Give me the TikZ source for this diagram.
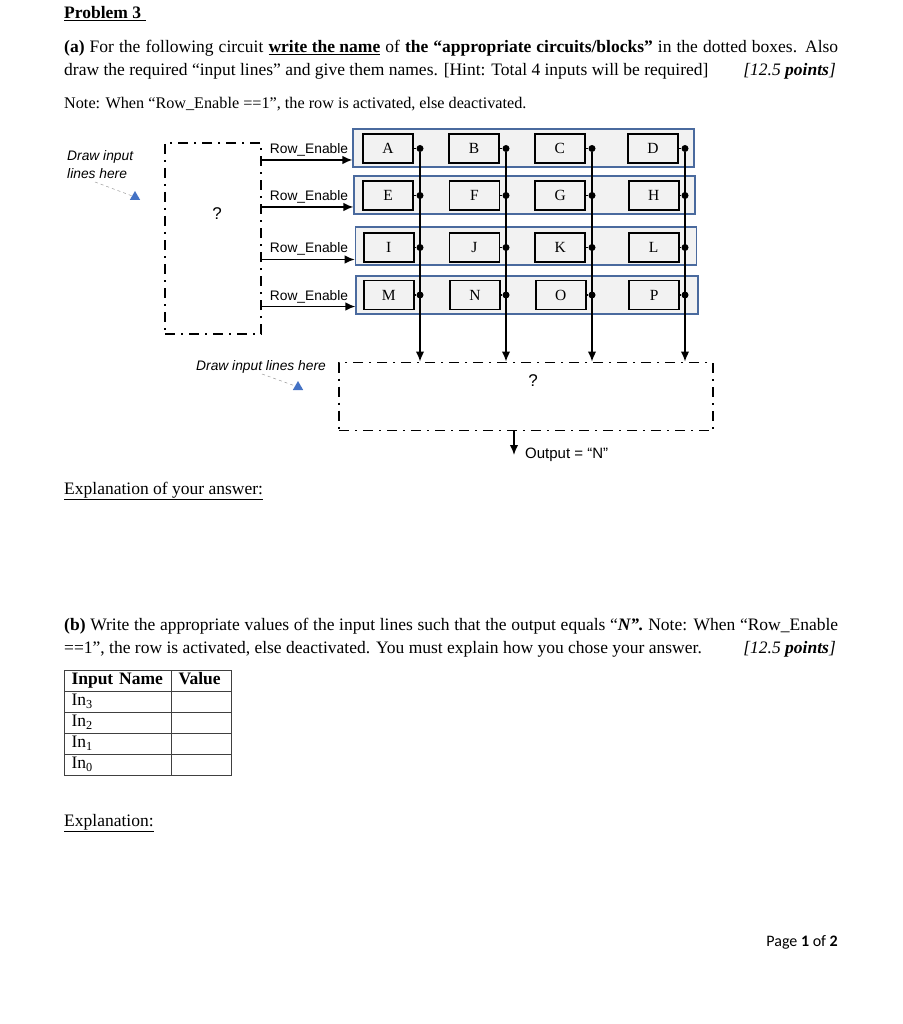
\documentclass[tikz,border=0pt]{standalone}
\usepackage{fontspec}
\setmainfont{Liberation Serif}
\newfontfamily\arialfont{Liberation Sans}
\newfontfamily\pagefont{Carlito}
\usetikzlibrary{arrows.meta,matrix,shapes.geometric}
\tikzset{>={Latex[length=10pt,width=8.5pt]}}
\definecolor{bandline}{HTML}{4A6A9E}
\definecolor{bandfill}{HTML}{F2F2F2}
\definecolor{hintblue}{HTML}{4472C4}
\tikzset{
body/.style={anchor=base west, inner sep=0pt, font=\fontsize{17.5}{20}\selectfont},
fig/.style={inner sep=0pt, font=\arialfont\fontsize{13.8}{16}\selectfont},
band/.style={draw=bandline, fill=bandfill, line width=1.2pt, minimum width=341pt, minimum height=38pt, inner sep=0pt},
block/.style={draw=black, fill=bandfill, line width=1.8pt, minimum width=50pt, minimum height=29pt, inner sep=0pt, font=\fontsize{15.5}{18}\selectfont},
joint/.style={circle, fill=black, inner sep=0pt, minimum size=7pt},
dotbox/.style={draw=black, line width=1.8pt, dash pattern=on 10pt off 6pt on 2pt off 6pt, inner sep=0pt},
hint/.style={regular polygon, regular polygon sides=3, fill=hintblue, inner sep=0pt, minimum size=12pt},
hintline/.style={draw=gray!80, dashed, line width=0.5pt}
}
\newcommand{\pts}{{\itshape [12.5 \textbf{points}]}}
\newcommand{\fullline}[1]{\makebox[774pt][s]{#1}}
\begin{document}
\begin{tikzpicture}[x=1pt,y=-1pt]
\useasboundingbox (0,0) rectangle (902,1024);
% question text
\node[body] (title) at (64,19) {\textbf{\underline{Problem 3\ }}};
\node[body] (a1) at (64,53) {\fullline{\textbf{(a)} For the following circuit \textbf{\underline{write the name}} of \textbf{the “appropriate circuits/blocks”} in the dotted boxes. Also}};
\node[body] (a2) at (64,76) {draw the required “input lines” and give them names. [Hint: Total 4 inputs will be required]};
\node[body, anchor=base east] (a2p) at (836,76) {\pts};
\node[body, font=\fontsize{16.2}{18}\selectfont] (note) at (64,109) {Note: When “Row\_Enable ==1”, the row is activated, else deactivated.};
\node[body] (expl1) at (64,494) {\underline{Explanation of your answer:}};
\node[body] (b1) at (64,630) {\fullline{\textbf{(b)} Write the appropriate values of the input lines such that the output equals “\textit{\textbf{N”.}} Note: When “Row\_Enable}};
\node[body] (b2) at (64,653) {==1”, the row is activated, else deactivated. You must explain how you chose your answer.};
\node[body, anchor=base east] (b2p) at (836,653) {\pts};
\node[body] (expl2) at (64,826) {\underline{Explanation:}};
\node[body, anchor=base east, font=\pagefont\fontsize{16}{18}\selectfont] (page) at (838,946) {Page \textbf{1} of \textbf{2}};
% row bands
\node[band] (R1) at (523.5,148) {};
\node[band] (R2) at (524.5,195) {};
\node[band] (R3) at (525.8,246) {};
\node[band, minimum width=342pt] (R4) at (527,295) {};
% blocks
\foreach \name/\posx/\posy in {A/388/148.5,B/474/148.5,C/559.7/148.5,D/653/148.5,
E/388/195.5,F/474.5/195.5,G/560.2/195.5,H/653.7/195.5,
I/388.7/247.5,J/474.5/247.5,K/560.2/247.5,L/653.7/247.5,
M/388.7/295,N/475/295,O/560.7/295,P/654.2/295}
\node[block] (\name) at (\posx,\posy) {\name};
% outputs of the blocks
\foreach \name/\posx in {A/420,B/506,C/592,D/685,
E/420,F/506,G/592,H/685,
I/420,J/506,K/592,L/685,
M/420,N/506,O/592,P/685}
{
\node[joint] (j\name) at (\posx,0 |- \name.east) {};
\draw[line width=1.8pt] (\name.east) -- (j\name);
}
% boxes
\node[dotbox, minimum width=96pt, minimum height=191pt] (sel) at (213,238.5) {};
\node[dotbox, minimum width=374pt, minimum height=68pt] (mux) at (526,396.5) {};
\node[fig, font=\arialfont\fontsize{17}{20}\selectfont] (qsel) at (217,214) {?};
\node[fig, font=\arialfont\fontsize{17}{20}\selectfont] (qmux) at (533,381) {?};
% row enables
\foreach \r/\posy/\laby in {1/160/150,2/207/197,3/259.5/249,4/306.5/297}
{
\coordinate (s\r) at (sel.east |- 0,\posy);
\draw[->, line width=1.6pt] (s\r) -- (s\r -| R\r.west);
\node[fig] (en\r) at (309,\laby) {Row\_Enable};
}
% buses
\path[->, line width=1.6pt, draw]
(jA) edge (jA |- mux.north)
(jB) edge (jB |- mux.north)
(jC) edge (jC |- mux.north)
(jD) edge (jD |- mux.north);
\coordinate (out) at (514,455);
\draw[->, line width=1.6pt] (out |- mux.south) -- (out);
\node[fig, anchor=west, font=\arialfont\fontsize{15}{18}\selectfont] (outl) at (525,455) {Output = “N”};
% hints
\node[fig, font=\arialfont\itshape\fontsize{13.8}{18}\selectfont, align=left, anchor=north west] (h1) at (67,150) {Draw input\\lines here};
\node[hint] (t1) at (135,197) {};
\draw[hintline] (95,182) -- (t1);
\node[fig, font=\arialfont\itshape\fontsize{13.8}{16}\selectfont, anchor=west] (h2) at (196,367) {Draw input lines here};
\node[hint] (t2) at (298,387) {};
\draw[hintline] (262,374) -- (t2);
% answer table
\matrix (tab) at (147.5,722.75) [matrix of nodes, nodes in empty cells, row sep=-0.8pt, column sep=-0.8pt,
nodes={draw=black!75, line width=0.8pt, inner ysep=2.55pt, inner xsep=7.5pt, text height=12pt, text depth=4pt, font=\fontsize{17.5}{20}\selectfont},
column 1/.style={nodes={text width=92pt}},
column 2/.style={nodes={text width=45pt}}]
{
|[font=\bfseries\fontsize{17.5}{20}\selectfont]| \mbox{Input Name} & |[font=\bfseries\fontsize{17.5}{20}\selectfont]| Value \\
In\textsubscript{3} & \\
In\textsubscript{2} & \\
In\textsubscript{1} & \\
In\textsubscript{0} & \\
};
\end{tikzpicture}
\end{document}
